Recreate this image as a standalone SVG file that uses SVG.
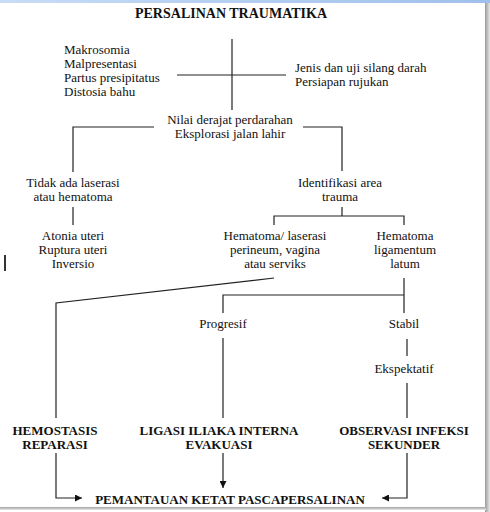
<svg xmlns="http://www.w3.org/2000/svg" width="490" height="512" viewBox="0 0 490 512">
<defs>
<linearGradient id="topband" x1="0" y1="0" x2="1" y2="0">
<stop offset="0" stop-color="#c8dcf6"/>
<stop offset="1" stop-color="#9fc0ec"/>
</linearGradient>
<linearGradient id="rshadow" x1="0" y1="0" x2="1" y2="0">
<stop offset="0" stop-color="#9a9a9a"/>
<stop offset="1" stop-color="#e8e8e8"/>
</linearGradient>
<linearGradient id="bshadow" x1="0" y1="0" x2="0" y2="1">
<stop offset="0" stop-color="#a0a0a0"/>
<stop offset="1" stop-color="#e8e8e8"/>
</linearGradient>
<marker id="arr" viewBox="0 0 10 10" refX="10" refY="5" markerWidth="7" markerHeight="7" markerUnits="userSpaceOnUse" orient="auto">
<path d="M0,0 L10,5 L0,10 z" fill="#111"/>
</marker>
</defs>
<style>
text{font-family:"Liberation Serif","Times New Roman",serif;font-size:13px;fill:#111;text-anchor:middle}
.l{text-anchor:start}
.b{font-weight:bold}
.t{font-weight:bold;font-size:14px}
#connectors line,#connectors polyline{stroke:#222;stroke-width:1.2;fill:none}
</style>
<rect width="490" height="512" fill="#fff"/>
<rect x="0" y="0" width="490" height="3" fill="url(#topband)"/>
<rect x="485" y="3" width="5" height="509" fill="url(#rshadow)"/>
<rect x="0" y="507" width="486" height="3" fill="url(#bshadow)"/>
<g id="connectors">
<line x1="232" y1="39" x2="232" y2="110"/>
<line x1="177" y1="75" x2="286" y2="75"/>
<polyline points="154,127 73,127 73,172"/>
<polyline points="303,127 342,127 342,171"/>
<line x1="73" y1="207" x2="73" y2="225"/>
<line x1="342" y1="207" x2="342" y2="216"/>
<polyline points="274,225 274,216 404,216 404,225"/>
<polyline points="274,278 56,303 56,418"/>
<line x1="404" y1="278" x2="404" y2="313"/>
<polyline points="223,313 223,295 404,295"/>
<line x1="223" y1="338" x2="223" y2="418"/>
<line x1="223" y1="453" x2="223" y2="488" marker-end="url(#arr)"/>
<line x1="407" y1="339" x2="407" y2="356"/>
<line x1="407" y1="383" x2="407" y2="418"/>
<polyline points="56,453 56,498 82,498" marker-end="url(#arr)"/>
<polyline points="407,453 407,498 382,498" marker-end="url(#arr)"/>
</g>
<line x1="5" y1="255" x2="5" y2="271" stroke="#333" stroke-width="2"/>
<g id="title"><text class="t" x="231" y="18">PERSALINAN TRAUMATIKA</text></g>
<g id="risk"><text class="l" x="64" y="54">Makrosomia</text><text class="l" x="64" y="68">Malpresentasi</text><text class="l" x="64" y="82">Partus presipitatus</text><text class="l" x="64" y="96">Distosia bahu</text></g>
<g id="prep"><text class="l" x="295" y="72">Jenis dan uji silang darah</text><text class="l" x="295" y="86">Persiapan rujukan</text></g>
<g id="nilai"><text x="230" y="124">Nilai derajat perdarahan</text><text x="230" y="138">Eksplorasi jalan lahir</text></g>
<g id="tidak"><text x="73" y="187">Tidak ada laserasi</text><text x="73" y="201">atau hematoma</text></g>
<g id="identifikasi"><text x="340" y="187">Identifikasi area</text><text x="340" y="201">trauma</text></g>
<g id="atonia"><text x="73" y="240">Atonia uteri</text><text x="73" y="254">Ruptura uteri</text><text x="73" y="268">Inversio</text></g>
<g id="hematoma1"><text x="275" y="240">Hematoma/ laserasi</text><text x="275" y="254">perineum, vagina</text><text x="275" y="268">atau serviks</text></g>
<g id="hematoma2"><text x="405" y="240">Hematoma</text><text x="405" y="254">ligamentum</text><text x="405" y="268">latum</text></g>
<g id="progresif"><text x="223" y="328">Progresif</text></g>
<g id="stabil"><text x="404" y="328">Stabil</text></g>
<g id="ekspektatif"><text x="404" y="373">Ekspektatif</text></g>
<g id="hemostasis"><text class="b" x="55" y="435">HEMOSTASIS</text><text class="b" x="55" y="449">REPARASI</text></g>
<g id="ligasi"><text class="b" x="219" y="435">LIGASI ILIAKA INTERNA</text><text class="b" x="219" y="449">EVAKUASI</text></g>
<g id="observasi"><text class="b" x="404" y="435">OBSERVASI INFEKSI</text><text class="b" x="404" y="449">SEKUNDER</text></g>
<g id="pemantauan"><text class="b" x="230" y="504">PEMANTAUAN KETAT PASCAPERSALINAN</text></g>
</svg>
